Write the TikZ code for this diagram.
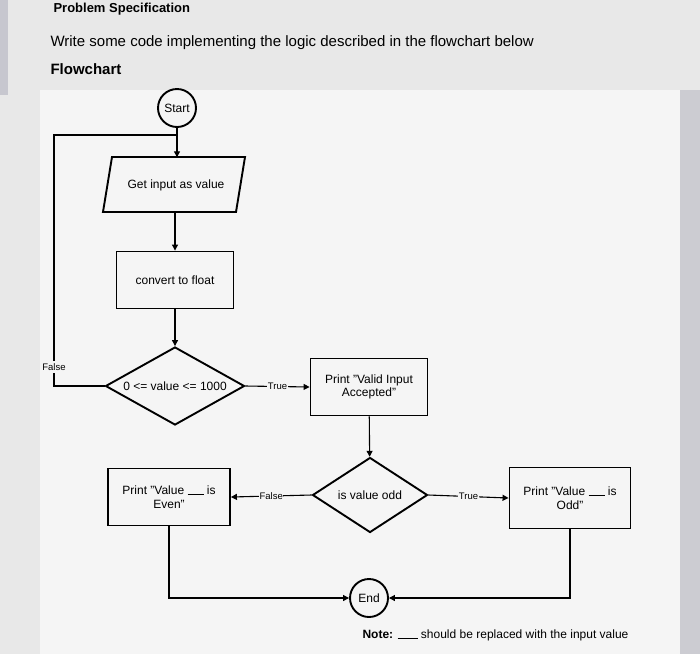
\documentclass[tikz,border=0pt]{standalone}
\usepackage{fontspec}
\setmainfont{Liberation Sans}
\usetikzlibrary{shapes.geometric,arrows.meta}
\begin{document}
\begin{tikzpicture}[x=1pt,y=-1pt,
  box/.style={draw,line width=1.9pt,minimum width=117pt,minimum height=57pt,align=center,font=\fontsize{12}{13.5}\selectfont},
  dia/.style={draw,line width=1.9pt,diamond,aspect=1.8,inner sep=1pt,font=\fontsize{12}{13}\selectfont},
  term/.style={draw,line width=1.9pt,circle,minimum size=38pt,inner sep=0pt,font=\fontsize{12}{13}\selectfont},
  lab/.style={fill=black!4,inner sep=0.5pt,font=\fontsize{9.5}{10}\selectfont},
  ar/.style={-{Triangle[length=6pt,width=6pt]},line width=1.1pt},
  ln/.style={line width=1.1pt}]
\useasboundingbox (0,0) rectangle (700,654);
\fill[black!9] (0,0) rectangle (700,654);
\fill[black!4] (40,90) rectangle (680,654);
\fill[blue!15!black!22] (0,0) rectangle (8,95);
\fill[blue!12!black!20] (680,90) rectangle (700,654);
\node[anchor=west,font=\bfseries\fontsize{13}{14}\selectfont] (h1) at (50,9) {Problem Specification};
\node[anchor=west,font=\fontsize{15}{16}\selectfont] (h2) at (47,43) {Write some code implementing the logic described in the flowchart below};
\node[anchor=west,font=\bfseries\fontsize{15}{16}\selectfont] (h3) at (47,69) {Flowchart};
\node[term] (start) at (177,108) {Start};
\node[minimum width=134pt,minimum height=55pt,font=\fontsize{12}{13}\selectfont] (inp) at (176,185) {Get input as value};
\draw[line width=1.9pt] (112,157) -- (245,157) -- (236,212) -- (103,212) -- cycle;
\node[box] (conv) at (175,280) {convert to float};
\node[dia,minimum width=139pt,minimum height=78pt] (d1) at (175,386) {0 <= value <= 1000};
\node[box] (valid) at (369,387) {Print "Valid Input\\Accepted"};
\node[dia,minimum width=115pt,minimum height=75pt] (d2) at (370,495) {is value odd};
\node[box,minimum width=122pt] (even) at (169,497) {Print "Value \rule{16pt}{0.5pt} is\\Even"};
\node[box,minimum width=121pt,minimum height=61pt] (odd) at (570,498) {Print "Value \rule{16pt}{0.5pt} is\\Odd"};
\node[term] (end) at (369,598) {End};
\coordinate (j) at (177,135);
\draw[ar] (start) -- (start |- inp.north);
\draw[ar] (inp.south -| conv) -- (conv.north);
\draw[ar] (conv) -- (d1);
\draw[ln] (d1.west) -- (54,386) -- (54,373);
\draw[ln] (54,361) -- (54,135) -- (j);
\node[font=\fontsize{9.5}{10}\selectfont] (f1) at (54,367) {False};
\draw[ar] (d1.east) -- node[lab]{True} (valid.west);
\draw[ar] (valid) -- (d2);
\draw[ar] (d2.west) -- node[lab]{False} (even.east);
\draw[ar] (d2.east) -- node[lab]{True} (odd.west);
\draw[ar] (even.south) |- (end.west);
\draw[ar] (odd.south) |- (end.east);
\node[anchor=west,font=\fontsize{12}{13}\selectfont] (note) at (359,635) {\textbf{Note:} \rule{20pt}{0.5pt} should be replaced with the input value};
\end{tikzpicture}
\end{document}
